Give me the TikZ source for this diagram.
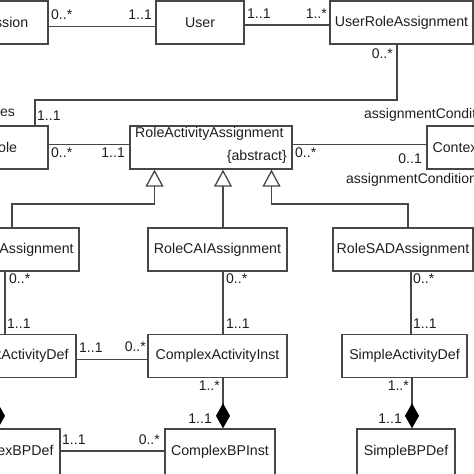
\documentclass[tikz,border=0pt]{standalone}
\usepackage{fontspec}
\setmainfont{Liberation Sans}
\usetikzlibrary{arrows.meta}
\definecolor{ln}{RGB}{70,70,70}
\definecolor{tx}{RGB}{30,30,30}
\begin{document}
\begin{tikzpicture}[x=1pt,y=-1pt,
  cls/.style={draw=ln, line width=1.3pt, minimum height=43pt, inner sep=0pt,
    font=\fontsize{14.2}{16}\selectfont, text=tx},
  mult/.style={inner sep=0pt, font=\fontsize{14}{16}\selectfont, text=tx},
  assoc/.style={draw=ln, line width=1.3pt},
  gen/.style={assoc, -{Triangle[open, length=17pt, width=18pt]}},
  comp/.style={assoc, -{Diamond[length=25pt, width=14pt, color=black]}}]
\useasboundingbox (0,0) rectangle (474,474);
% classes
\node[cls, minimum width=90pt]  (session) at (3,22.5) {Session};
\node[cls, minimum width=88pt]  (user)    at (200,22.5) {User};
\node[cls, minimum width=143pt] (ura)     at (401.5,22.5) {UserRoleAssignment};
\node[cls, minimum width=91pt]  (role)    at (2.5,147.5) {Role};
\node[cls, minimum width=162pt] (raa)     at (211,147.5) {};
\node[mult, font=\fontsize{14.2}{16}\selectfont, anchor=west] (raaname) at (135,134) {RoleActivityAssignment};
\node[mult, font=\fontsize{14.2}{16}\selectfont, anchor=east] (raaabs) at (287,157) {\{abstract\}};
\node[cls, minimum width=60pt]  (context) at (457,147.5) {Context};
\node[cls, minimum width=144pt] (rcad)    at (7,249.5) {RoleCADAssignment};
\node[cls, minimum width=139pt] (rcai)    at (217.5,249.5) {RoleCAIAssignment};
\node[cls, minimum width=140pt] (rsad)    at (403,249.5) {RoleSADAssignment};
\node[cls, minimum width=138pt] (cad)     at (7,356) {ComplexActivityDef};
\node[cls, minimum width=139pt] (cai)     at (217.5,356) {ComplexActivityInst};
\node[cls, minimum width=125pt] (sad)     at (404.5,356) {SimpleActivityDef};
\node[cls, minimum width=110pt, minimum height=46pt] (cbd) at (5,452) {ComplexBPDef};
\node[cls, minimum width=110pt, minimum height=46pt] (cbi) at (220,452) {ComplexBPInst};
\node[cls, minimum width=98pt,  minimum height=46pt] (sbd) at (406,452) {SimpleBPDef};
% helper coordinates
\coordinate (ya) at (0,26.5);
\coordinate (yb) at (0,25);
\coordinate (ur1) at (397,100);
\coordinate (ur2) at (35,100);
\coordinate (yc) at (0,144.5);
\coordinate (jl1) at (12,204);
\coordinate (jl2) at (154.5,204);
\coordinate (jm) at (223,204);
\coordinate (jr1) at (408,204);
\coordinate (jr2) at (271.5,204);
\coordinate (va) at (5,0);
\coordinate (vr) at (411,0);
\coordinate (yd) at (0,359.5);
\coordinate (ka) at (-2,0);
\coordinate (kr) at (412,0);
\coordinate (ye) at (0,451);
% associations
\draw[assoc] (session.east |- ya) -- (user.west |- ya);
\draw[assoc] (user.east |- yb) -- (ura.west |- yb);
\draw[assoc] (ura.south -| ur1) -- (ur1) -- (ur2) -- (role.north -| ur2);
\draw[assoc] (role.east |- yc) -- (raa.west |- yc);
\draw[assoc] (raa.east |- yc) -- (context.west |- yc);
% generalizations
\draw[gen] (rcad.north -| jl1) -- (jl1) -- (jl2) -- (raa.south -| jl2);
\draw[gen] (rcai.north -| jm) -- (raa.south -| jm);
\draw[gen] (rsad.north -| jr1) -- (jr1) -- (jr2) -- (raa.south -| jr2);
% role assignment to activities
\draw[assoc] (rcad.south -| va) -- (cad.north -| va);
\draw[assoc] (rcai.south -| jm) -- (cai.north -| jm);
\draw[assoc] (rsad.south -| vr) -- (sad.north -| vr);
\draw[assoc] (cad.east |- yd) -- (cai.west |- yd);
% compositions
\draw[comp] (cad.south -| ka) -- (cbd.north -| ka);
\draw[comp] (cai.south -| jm) -- (cbi.north -| jm);
\draw[comp] (sad.south -| kr) -- (sbd.north -| kr);
\draw[assoc] (cbd.east |- ye) -- (cbi.west |- ye);
% multiplicities and role names
\node[mult, anchor=west] (m1) at (51,15) {0..*};
\node[mult, anchor=east] (m2) at (152,15) {1..1};
\node[mult, anchor=west] (m3) at (247,14) {1..1};
\node[mult, anchor=east] (m4) at (327,14) {1..*};
\node[mult, anchor=east] (m5) at (393,54) {0..*};
\node[mult, anchor=west] (m6) at (37,116) {1..1};
\node[mult, anchor=east] (m7) at (15,113) {es};
\node[mult, anchor=west] (m8) at (51,153) {0..*};
\node[mult, anchor=east] (m9) at (125,153) {1..1};
\node[mult, anchor=west] (m10) at (295,153) {0..*};
\node[mult, anchor=east] (m11) at (422,159) {0..1};
\node[mult, anchor=base west] (c1) at (364,118) {assignmentCondition};
\node[mult, anchor=base west] (c2) at (346,183) {assignmentCondition};
\node[mult, anchor=west] (m12) at (9,279) {0..*};
\node[mult, anchor=west] (m13) at (7,324) {1..1};
\node[mult, anchor=west] (m14) at (226,279) {0..*};
\node[mult, anchor=west] (m15) at (226,324) {1..1};
\node[mult, anchor=west] (m16) at (413,279) {0..*};
\node[mult, anchor=west] (m17) at (413,324) {1..1};
\node[mult, anchor=west] (m18) at (79,348) {1..1};
\node[mult, anchor=east] (m19) at (146,347) {0..*};
\node[mult, anchor=east] (m20) at (220,386) {1..*};
\node[mult, anchor=east] (m21) at (212,419) {1..1};
\node[mult, anchor=east] (m22) at (409,386) {1..*};
\node[mult, anchor=east] (m23) at (402,419) {1..1};
\node[mult, anchor=west] (m24) at (62,440) {1..1};
\node[mult, anchor=east] (m25) at (160,440) {0..*};
\end{tikzpicture}
\end{document}
